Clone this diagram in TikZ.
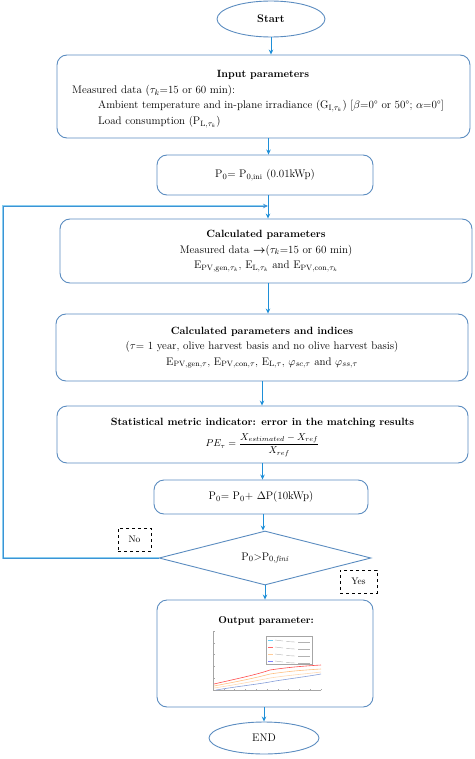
\documentclass[tikz,border=0pt]{standalone}
\usepackage{fontspec}
\usepackage{amsmath}
\usetikzlibrary{shapes.geometric,arrows.meta}
\definecolor{boxc}{HTML}{5B8CC0}
\definecolor{arrc}{HTML}{1E8FD8}
\definecolor{fbl}{HTML}{8CCFEF}
\definecolor{fbd}{HTML}{3C93D6}
\newcommand{\ttl}[1]{{\fontsize{10.5}{15.5}\selectfont\textbf{#1}}}
\tikzset{
  box/.style={draw=boxc, line width=0.9pt, rounded corners=10pt, align=center, inner sep=2pt, font=\fontsize{11}{15.5}\selectfont},
  ell/.style={ellipse, draw=boxc, line width=0.9pt, inner sep=0pt, font=\fontsize{11}{13}\selectfont},
  dia/.style={diamond, draw=boxc, line width=0.9pt, inner sep=0pt, aspect=3.9, font=\fontsize{11}{13}\selectfont},
  arr/.style={-{Stealth[length=5pt,width=4.5pt]}, draw=arrc, line width=1pt},
  lbl/.style={draw=black, dashed, line width=0.8pt, inner sep=0pt, font=\fontsize{9.5}{11}\selectfont},
  txt/.style={inner sep=0pt, font=\fontsize{11}{15.5}\selectfont}
}
\begin{document}
\begin{tikzpicture}[x=1pt,y=-1pt]
\useasboundingbox (0,0) rectangle (474,759);
% nodes
\node[ell, minimum width=108pt, minimum height=36pt] (start) at (271,19) {\textbf{Start}};
\node[box, minimum width=413pt, minimum height=83pt] (input) at (263.5,96.5) {};
\node[txt, anchor=base] (t1) at (263,78) {\ttl{Input parameters}};
\node[txt, anchor=base west] (t2) at (72,94) {Measured data ($\tau_k$=15 or 60 min):};
\node[txt, anchor=base west] (t3) at (98,109) {Ambient temperature and in-plane irradiance ($\mathrm{G}_{\mathrm{I},\tau_k}$) [$\beta$=0° or 50°; $\alpha$=0°]};
\node[txt, anchor=base west] (t4) at (98,125) {Load consumption ($\mathrm{P}_{\mathrm{L},\tau_k}$)};
\node[box, minimum width=216pt, minimum height=40pt] (p0) at (265,175) {P$_0$= P$_{0,\mathrm{ini}}$ (0.01kWp)};
\node[box, minimum width=412pt, minimum height=64pt] (calc) at (266,251) {\ttl{Calculated parameters}\\ Measured data $\boldsymbol{\rightarrow}$($\tau_k$=15 or 60 min)\\ $\mathrm{E}_{\mathrm{PV,gen},\tau_k}$, $\mathrm{E}_{\mathrm{L},\tau_k}$ and $\mathrm{E}_{\mathrm{PV,con},\tau_k}$};
\node[box, minimum width=412pt, minimum height=67pt] (idx) at (262,347.5) {\ttl{Calculated parameters and indices}\\ ($\tau$= 1 year, olive harvest basis and no olive harvest basis)\\ $\mathrm{E}_{\mathrm{PV,gen},\tau}$, $\mathrm{E}_{\mathrm{PV,con},\tau}$, $\mathrm{E}_{\mathrm{L},\tau}$, $\varphi_{sc,\tau}$ and $\varphi_{ss,\tau}$};
\node[box, minimum width=411pt, minimum height=57pt] (stat) at (262.5,434.5) {};
\node[txt, anchor=base] (st1) at (262.5,425) {\ttl{Statistical metric indicator: error in the matching results}};
\node[txt, font=\fontsize{10}{12}\selectfont] (st2) at (262.5,445) {$PE_\tau=\dfrac{X_{estimated}-X_{ref}}{X_{ref}}$};
\node[box, minimum width=214pt, minimum height=34pt] (upd) at (261,497) {P$_0$= P$_0$+ $\Delta$P(10kWp)};
\node[dia, minimum width=212pt, minimum height=54pt] (dec) at (265,558) {P$_0$>P$_{0,\mathit{fini}}$};
\node[lbl, minimum width=33pt, minimum height=23pt] (no) at (134.5,539.5) {No};
\node[lbl, minimum width=37pt, minimum height=23pt] (yes) at (358.5,581.5) {Yes};
\node[box, minimum width=216pt, minimum height=107pt] (out) at (265,653.5) {};
\node[txt, anchor=base] (ot) at (266,623) {{\fontsize{10}{12}\selectfont\textbf{Output parameter:}}};
\node[ell, minimum width=110pt, minimum height=32pt] (end) at (264,738) {END};
% chart
\begin{scope}[line width=0.3pt]
  \draw[gray!70] (213,631) -- (213,690) -- (321,690);
  \foreach \i in {0,...,10} \draw[gray!70] (213+10.8*\i,690) -- (213+10.8*\i,688.5);
  \foreach \j in {0,...,5} \draw[gray!70] (213,690-11.8*\j) -- (214.5,690-11.8*\j);
  \draw[red!70, line width=0.6pt] (214,684) .. controls (240,678) and (255,675) .. (270,670) .. controls (290,667) and (305,666) .. (321,665);
  \draw[orange!50, line width=0.6pt] (214,686) .. controls (240,681) and (255,678) .. (270,674) .. controls (290,671) and (305,670) .. (321,669);
  \draw[orange!30, line width=0.6pt] (214,688) .. controls (240,684) and (255,681) .. (270,678) .. controls (290,675) and (305,674) .. (321,672);
  \draw[cyan!40!blue!50, line width=0.6pt] (216,690) .. controls (240,686) and (260,684) .. (275,681) .. controls (295,678) and (310,676) .. (321,674);
  \draw[gray!70] (266,636) rectangle (312,664);
  \foreach \k/\c in {0/cyan!60, 1/red!60, 2/orange!40, 3/blue!50} {
    \draw[\c, line width=0.5pt] (268,640+7*\k) -- (273,640+7*\k);
    \draw[gray!60, line width=0.4pt] (275,640+7*\k) -- (283,641+7*\k);
    \draw[gray!60, line width=0.4pt] (286,641.5+7*\k) -- (295,642+7*\k);
    \draw[gray!60, line width=0.4pt] (298,642+7*\k) -- (310,642+7*\k);
  }
\end{scope}
% connectors
\draw[arr] (start.south) -- (start.south |- input.north);
\draw[arr] ([xshift=5pt]input.south) -- ([xshift=5pt]input.south |- p0.north);
\draw[arr] ([xshift=3pt]p0.south) -- ([xshift=3pt]p0.south |- calc.north);
\draw[arr] ([xshift=2pt]calc.south) -- ([xshift=2pt]calc.south |- idx.north);
\draw[arr] (idx.south) -- (idx.south |- stat.north);
\draw[arr] (stat.south) -- (stat.south |- upd.north);
\draw[arr] ([xshift=2pt]upd.south) -- ([xshift=2pt]upd.south |- dec.north);
\draw[arr] (dec.south) -- (dec.south |- out.north);
\draw[arr] ([xshift=-1pt]out.south) -- ([xshift=-1pt]out.south |- end.north);
\coordinate (fbl1) at (3,558);
\coordinate (fbl2) at (3,206);
\coordinate (fbl3) at (268,206);
\draw[fbl, line width=2.2pt] (dec.west) -- (fbl1) -- (fbl2) -- ([xshift=-4pt]fbl3);
\draw[fbd, line width=0.7pt, -{Stealth[length=5pt,width=4.5pt]}] (dec.west) -- (fbl1) -- (fbl2) -- (fbl3);
\end{tikzpicture}
\end{document}
